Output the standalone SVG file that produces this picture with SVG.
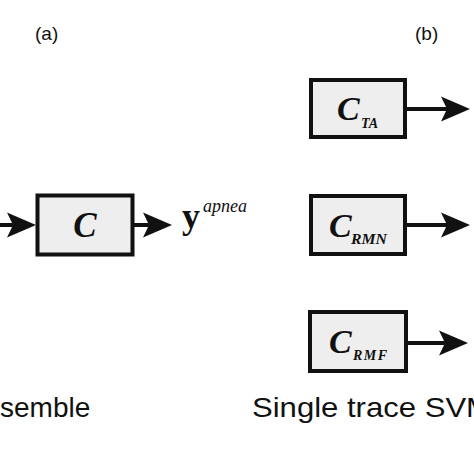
<svg xmlns="http://www.w3.org/2000/svg" width="474" height="474" viewBox="0 0 474 474">
<style>
.box{fill:#eeeeee;stroke:#111111;stroke-width:4}
.conn{stroke:#111111;stroke-width:4;fill:none}
.lbl{font-family:"Liberation Sans",Arial,sans-serif;fill:#111111}
.math{font-family:"Liberation Serif","Times New Roman",serif;fill:#111111}
.bi{font-weight:bold;font-style:italic}
</style>
<defs>
<marker id="ah" viewBox="0 0 29 26" markerWidth="29" markerHeight="26" refX="23" refY="13" markerUnits="userSpaceOnUse" orient="auto">
<path d="M0,0.5 L29,13 L0,25.5 L6,13 Z" fill="#111111"/>
</marker>
</defs>
<rect width="474" height="474" fill="#ffffff"/>
<text class="lbl" x="35" y="40" font-size="19">(a)</text>
<text class="lbl" x="415" y="40" font-size="19">(b)</text>
<g id="connectors">
<line class="conn" x1="0" y1="225" x2="30" y2="225" marker-end="url(#ah)"/>
<line class="conn" x1="134" y1="225" x2="166" y2="225" marker-end="url(#ah)"/>
<line class="conn" x1="407" y1="109" x2="464" y2="109" marker-end="url(#ah)"/>
<line class="conn" x1="407" y1="225" x2="464" y2="225" marker-end="url(#ah)"/>
<line class="conn" x1="407" y1="343" x2="462" y2="343" marker-end="url(#ah)"/>
</g>
<g id="node-C">
<rect class="box" x="37.5" y="195.5" width="95" height="59"/>
<text class="math bi" x="85" y="237" font-size="35" text-anchor="middle">C</text>
</g>
<g id="output-y">
<text class="math" x="182" y="228" font-size="36" font-weight="bold">y</text>
<text class="math" x="203" y="212" font-size="18" font-style="italic">apnea</text>
</g>
<g id="node-CTA">
<rect class="box" x="311" y="80" width="94" height="57"/>
<text class="math bi" x="337" y="120" font-size="34">C</text>
<text class="math bi" x="361" y="128" font-size="14">TA</text>
</g>
<g id="node-CRMN">
<rect class="box" x="311" y="196" width="94" height="58"/>
<text class="math bi" x="329" y="237" font-size="34">C</text>
<text class="math bi" x="351" y="244" font-size="14" textLength="36" lengthAdjust="spacingAndGlyphs">RMN</text>
</g>
<g id="node-CRMF">
<rect class="box" x="310" y="312" width="96" height="59"/>
<text class="math bi" x="329" y="353" font-size="34">C</text>
<text class="math bi" x="353" y="360" font-size="14" textLength="34">RMF</text>
</g>
<text class="lbl" x="0" y="417" font-size="28">semble</text>
<text class="lbl" x="252" y="417" font-size="28" textLength="240" lengthAdjust="spacingAndGlyphs">Single trace SVM</text>
</svg>
